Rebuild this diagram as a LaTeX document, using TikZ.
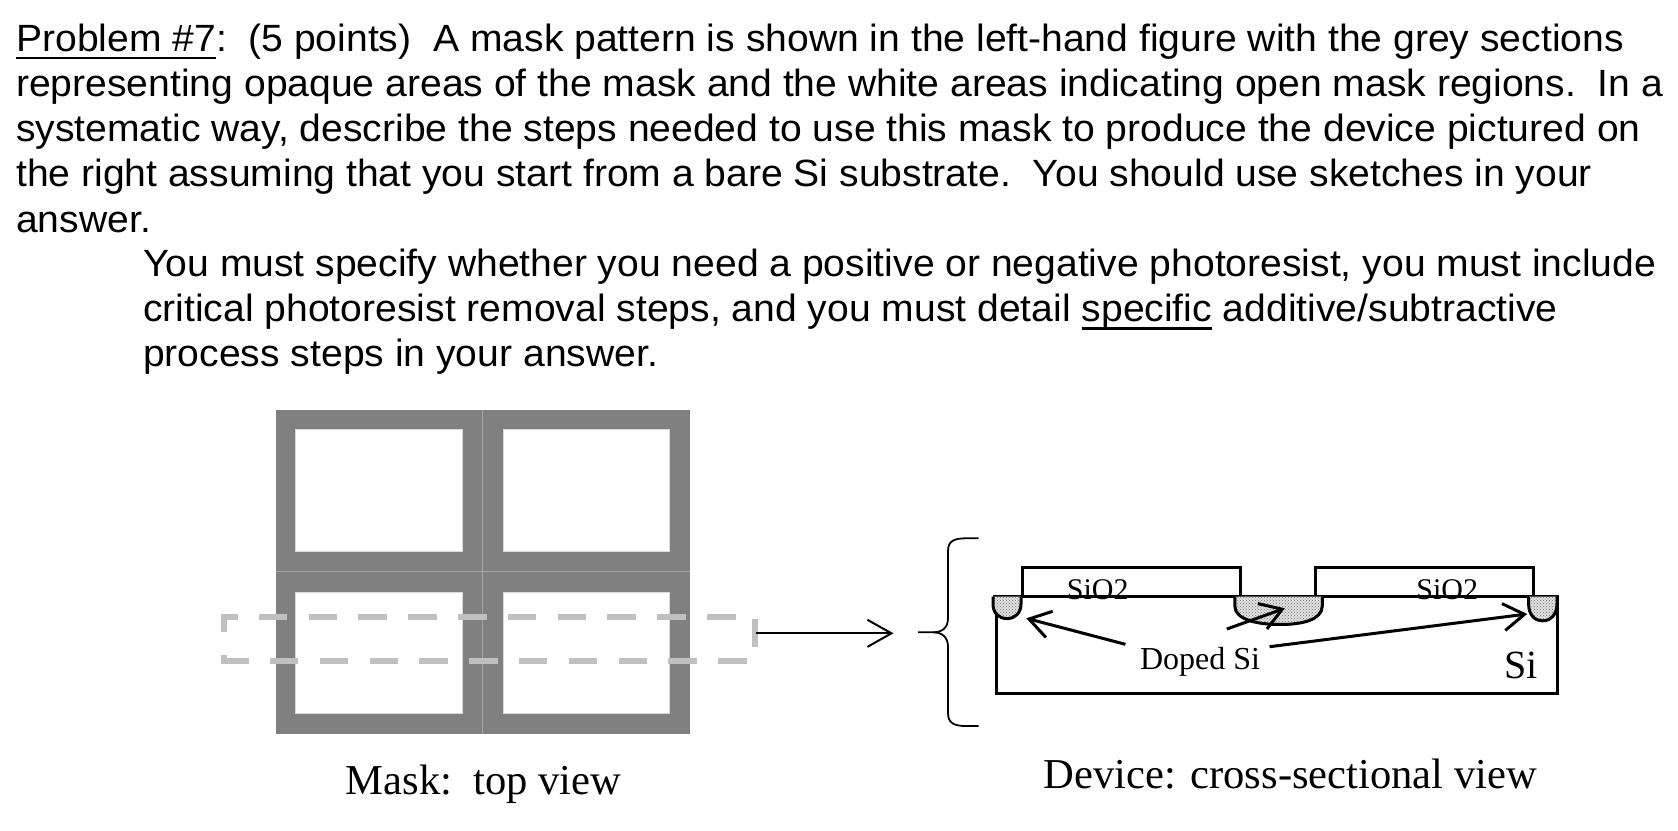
\documentclass[tikz,border=0pt]{standalone}
\usepackage{fontspec}
\setmainfont{Liberation Serif}
\newfontfamily\probfont[FakeStretch=1.03]{Liberation Sans}
\usetikzlibrary{arrows.meta,patterns}
\definecolor{maskgrey}{RGB}{128,128,128}
\definecolor{maskseam}{RGB}{165,165,165}
\definecolor{cutgrey}{RGB}{192,192,192}
\newcommand{\ulword}[1]{\setbox0\hbox{#1}\rlap{\rule[-8pt]{\wd0}{2.3pt}}#1}
\tikzset{
    probline/.style={anchor=base west, inner sep=0pt, font=\probfont\fontsize{37.95}{45}\selectfont},
    caption/.style={anchor=base, inner sep=0pt, font=\fontsize{42.6}{50}\selectfont},
    devlabel/.style={anchor=base, inner sep=0pt, font=\fontsize{32}{36}\selectfont},
    opening/.style={fill=white, draw=white!85!black, line width=0.8pt},
    doped/.style={draw=black, line width=3pt, preaction={fill=black!12}, pattern=crosshatch dots, pattern color=black!55},
    oxide/.style={draw=black, line width=3pt},
    barb/.style={-{Straight Barb[length=21pt,width=27pt,line width=3pt]}, line width=3pt},
}

\begin{document}
\begin{tikzpicture}[x=1pt,y=-1pt]

    \useasboundingbox (0,0) rectangle (1678,830);

    % problem text
    \node[probline] (line1) at (16,51) {\ulword{Problem \#7}:~~(5 points)~~A mask pattern is shown in the left-hand figure with the grey sections};
    \node[probline] (line2) at (16,96) {representing opaque areas of the mask and the white areas indicating open mask regions.~~In a};
    \node[probline] (line3) at (16,141) {systematic way, describe the steps needed to use this mask to produce the device pictured on};
    \node[probline] (line4) at (16,186.5) {the right assuming that you start from a bare Si substrate.~~You should use sketches in your};
    \node[probline] (line5) at (16,232) {answer.};
    \node[probline] (line6) at (143,276) {You must specify whether you need a positive or negative photoresist, you must include};
    \node[probline] (line7) at (143,321.5) {critical photoresist removal steps, and you must detail \ulword{specific} additive/subtractive};
    \node[probline] (line8) at (143,366.5) {process steps in your answer.};

    % mask
    \fill[maskgrey] (275.5,409.5) rectangle (689.5,734);
    \draw[maskseam, line width=0.8pt] (482.8,409.5) -- (482.8,734);
    \draw[maskseam, line width=0.8pt] (275.5,571.3) -- (689.5,571.3);
    \foreach \xa/\xb in {295.5/462.6, 503/669}
        \foreach \ya/\yb in {429.3/551.3, 592/713.7}
            \draw[opening] (\xa,\ya) rectangle (\xb,\yb);

    \node[caption] (maskcap) at (483.5,794.3) {Mask:~~top view};

    % cut line through the mask
    \draw[cutgrey, line width=6pt, dash pattern=on 28.5pt off 21.3pt]
        (224,631.7) -- (224,616.7) -- (754.6,616.7) -- (754.6,660.7) -- (224,660.7);
    \draw[cutgrey, line width=6pt] (224,663.7) -- (224,655);

    \coordinate (cutend) at (755.5,633.3);
    \coordinate (bracetip) at (918,632.3);
    \coordinate (arrowend) at (893.5,633.3);
    \draw[-{Straight Barb[length=24pt,width=27pt,line width=2pt]}, line width=2pt] (cutend) -- (arrowend);

    \draw[line width=1.8pt] (978.6,538.3) -- (966,538.3) .. controls (954,538.3) and (948,541) .. (948,551)
        -- (948,618) .. controls (948,628) and (942,632.3) .. (933,632.3) -- (bracetip);
    \draw[line width=1.8pt] (978.6,726) -- (966,726) .. controls (954,726) and (948,723) .. (948,713)
        -- (948,647) .. controls (948,637) and (942,632.3) .. (933,632.3);

    % device
    \node[devlabel, font=\fontsize{30}{34}\selectfont] (oxleft) at (1097.8,599) {SiO2};
    \node[devlabel, font=\fontsize{30}{34}\selectfont] (oxright) at (1447.3,599) {SiO2};

    \draw[oxide] (996,605) -- (996,693.2) -- (1557,693.2) -- (1557,596.5);
    \draw[oxide] (993,596.5) -- (1558.5,596.5);
    \draw[oxide] (1022.8,596.5) -- (1022.8,567.2) -- (1240.6,567.2) -- (1240.6,596.5);
    \draw[oxide] (1315.6,596.5) -- (1315.6,567.2) -- (1533,567.2) -- (1533,596.5);

    \draw[doped] (993,596.5) -- (993,604) .. controls (993,613) and (999,618.6) .. (1007,618.6)
        .. controls (1015,618.6) and (1021,613) .. (1021,604) -- (1021,596.5);
    \draw[doped] (1234.8,596.5) -- (1234.8,606) .. controls (1235,620) and (1258,624.5) .. (1280,624.5)
        .. controls (1302,624.5) and (1322,620) .. (1322.3,606) -- (1322.3,596.5);
    \draw[doped] (1528.6,596.5) -- (1528.6,604) .. controls (1528.6,614) and (1534,620.8) .. (1542.8,620.8)
        .. controls (1551,620.8) and (1557,614) .. (1557,604) -- (1557,596.5);

    \node[devlabel] (dopedsi) at (1200,669) {Doped Si};
    \node[anchor=base, inner sep=0pt, font=\fontsize{40}{44}\selectfont] (bulk) at (1521,678) {Si};

    \coordinate (fromleft) at (1125.4,644.3);
    \coordinate (frommid) at (1226.8,629);
    \coordinate (fromright) at (1269.6,646.7);
    \coordinate (wellleft) at (1026.3,618.3);
    \coordinate (wellmid) at (1284.8,608.3);
    \coordinate (wellright) at (1527.2,614);
    \draw[barb] (fromleft) -- (wellleft);
    \draw[barb] (frommid) -- (wellmid);
    \draw[barb] (fromright) -- (wellright);

    \node[caption] (devcap) at (1290.5,788.5) {Device: cross-sectional view};

\end{tikzpicture}
\end{document}
